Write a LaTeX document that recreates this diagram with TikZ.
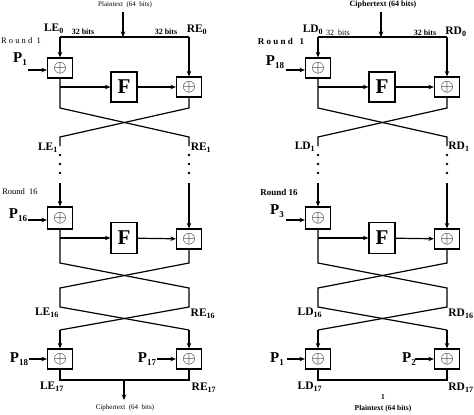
\documentclass[tikz,border=0pt]{standalone}
\usepackage{fontspec}
\setmainfont{Liberation Serif}
\usetikzlibrary{arrows.meta}
\newcommand\psub[1]{\raisebox{-3.5pt}{\fontsize{9}{9}\selectfont #1}}
\tikzset{
 wire/.style={line width=1.2pt},
 arr/.style={wire,-{Stealth[length=5.5pt,width=4.5pt]}},
 xorbox/.style={draw,line width=1.2pt,minimum width=25pt,minimum height=20pt,inner sep=0pt,font=\LARGE},
 fbox/.style={draw,line width=1.2pt,minimum width=26pt,minimum height=30pt,inner sep=0pt,font=\bfseries\fontsize{21}{21}\selectfont},
 lbl/.style={inner sep=0pt,font=\bfseries\fontsize{11.5}{12}\selectfont},
 plbl/.style={inner sep=0pt,font=\bfseries\fontsize{15}{15}\selectfont},
 small/.style={inner sep=0pt,font=\fontsize{7}{8}\selectfont},
 smallb/.style={inner sep=0pt,font=\bfseries\fontsize{7.5}{8}\selectfont},
 bits/.style={inner sep=0pt,font=\bfseries\fontsize{8}{9}\selectfont},
 roundl/.style={inner sep=0pt,font=\fontsize{8.5}{9}\selectfont},
 roundb/.style={inner sep=0pt,font=\bfseries\fontsize{9}{10}\selectfont},
}
\newcommand\feistel[2]{%
\begin{scope}[xshift=#2]
\coordinate (#1in) at (123,12);
\coordinate (#1bus) at (123,37);
\coordinate (#1busL) at (60,37);
\coordinate (#1busR) at (189,37);
\node[xorbox] (#1xa) at (60,68) {$\oplus$};
\node[fbox] (#1fa) at (124,87) {F};
\node[xorbox] (#1ya) at (189,87) {$\oplus$};
\coordinate (#1pa) at (28,70);
\draw[arr] (#1in) -- (#1bus);
\draw[wire] (#1busL) -- (#1busR);
\draw[arr] (#1busL) -- (#1xa);
\draw[arr] (#1busR) -- (#1ya);
\draw[arr] (#1pa) -- (#1pa -| #1xa.west);
\draw[arr] (#1xa |- #1fa) -- (#1fa);
\draw[arr] (#1fa) -- (#1ya);
\draw[wire] (#1xa.south) -- (60,108) -- (189,137) -- (189,146);
\draw[wire] (#1ya.south) -- (189,108) -- (60,137) -- (60,146);
\foreach \yy in {155,164,173} {\fill (60,\yy) circle (1.3pt); \fill (189,\yy) circle (1.3pt);}
\coordinate (#1db) at (60,183);
\coordinate (#1eb) at (189,183);
\node[xorbox,minimum height=22pt] (#1xb) at (60,218) {$\oplus$};
\node[fbox,minimum height=31pt] (#1fb) at (124,238) {F};
\node[xorbox] (#1yb) at (189,239) {$\oplus$};
\coordinate (#1pb) at (28,220);
\draw[arr] (#1db) -- (#1xb);
\draw[arr] (#1eb) -- (#1yb);
\draw[arr] (#1pb) -- (#1pb -| #1xb.west);
\draw[arr] (#1xb |- #1fb) -- (#1fb);
\draw[arr] (#1fb) -- (#1yb);
\draw[wire] (#1xb.south) -- (60,263) -- (189,288) -- (189,307) -- (60,330);
\draw[wire] (#1yb.south) -- (189,263) -- (60,288) -- (60,307) -- (189,330);
\coordinate (#1lc) at (60,330);
\coordinate (#1rc) at (189,330);
\node[xorbox] (#1xc) at (60,359) {$\oplus$};
\node[xorbox] (#1yc) at (189,359) {$\oplus$};
\coordinate (#1pc) at (29,359);
\coordinate (#1qc) at (157,359);
\draw[arr] (#1lc) -- (#1xc);
\draw[arr] (#1rc) -- (#1yc);
\draw[arr] (#1pc) -- (#1xc);
\draw[arr] (#1qc) -- (#1yc);
\coordinate (#1bl) at (60,380);
\coordinate (#1br) at (189,380);
\draw[wire] (#1xc.south) -- (#1bl) -- (#1br) -- (#1yc.south);
\end{scope}}
\begin{document}
\begin{tikzpicture}[x=1pt,y=-1pt]
\useasboundingbox (0,0) rectangle (474,415);
\feistel{L}{0pt}
\feistel{R}{258pt}
% left panel labels
\node[small] (ptop) at (125,5) {Plaintext \ (64 \ bits)};
\node[lbl] (le0) at (54,29) {LE\textsubscript{0}};
\node[bits] (b1) at (83,32) {32 bits};
\node[bits] (b2) at (166,32) {32 bits};
\node[lbl] (re0) at (197,30) {RE\textsubscript{0}};
\node[roundl] (r1) at (21,41) {R o u n d \ 1};
\node[plbl] (p1) at (20,59) {P\psub{1}};
\node[lbl] (le1) at (48,148) {LE\textsubscript{1}};
\node[lbl] (re1) at (201,148) {RE\textsubscript{1}};
\node[roundl] (r16) at (20,192) {Round \ 16};
\node[plbl] (p16) at (18,215) {P\psub{16}};
\node[lbl] (le16) at (47,313) {LE\textsubscript{16}};
\node[lbl] (re16) at (203,314) {RE\textsubscript{16}};
\node[plbl] (p18) at (19,359) {P\psub{18}};
\node[plbl] (p17) at (147,359) {P\psub{17}};
\node[lbl] (le17) at (52,387) {LE\textsubscript{17}};
\node[lbl] (re17) at (204,388) {RE\textsubscript{17}};
\coordinate (Lout) at (124,380);
\coordinate (Lend) at (124,400);
\draw[arr] (Lout) -- (Lend);
\node[small] (cbot) at (125,408) {Ciphertext \ (64 \ bits)};
% right panel labels
\node[smallb,font=\bfseries\fontsize{8}{9}\selectfont] (ctop) at (383,5) {Ciphertext (64 bits)};
\node[lbl] (ld0) at (313,30) {LD\textsubscript{0}};
\node[bits,font=\fontsize{8}{9}\selectfont] (b3) at (338,33) {32 \ bits};
\node[bits] (b4) at (425,33) {32 bits};
\node[lbl] (rd0) at (456,32) {RD\textsubscript{0}};
\node[roundb] (rr1) at (281,41) {R o u n d \ \ 1};
\node[plbl] (q18) at (275,62) {P\psub{18}};
\node[lbl] (ld1) at (305,147) {LD\textsubscript{1}};
\node[lbl] (rd1) at (459,147) {RD\textsubscript{1}};
\node[roundb] (rr16) at (279,192) {Round 16};
\node[plbl] (q3) at (277,211) {P\psub{3}};
\node[lbl] (ld16) at (310,313) {LD\textsubscript{16}};
\node[lbl] (rd16) at (461,314) {RD\textsubscript{16}};
\node[plbl] (q1) at (277,359) {P\psub{1}};
\node[plbl] (q2) at (409,359) {P\psub{2}};
\node[lbl] (ld17) at (310,387) {LD\textsubscript{17}};
\node[lbl] (rd17) at (461,388) {RD\textsubscript{17}};
\node[smallb] (one) at (383,397) {1};
\node[smallb] (pbot) at (383,409) {Plaintext (64 bits)};
\end{tikzpicture}
\end{document}
